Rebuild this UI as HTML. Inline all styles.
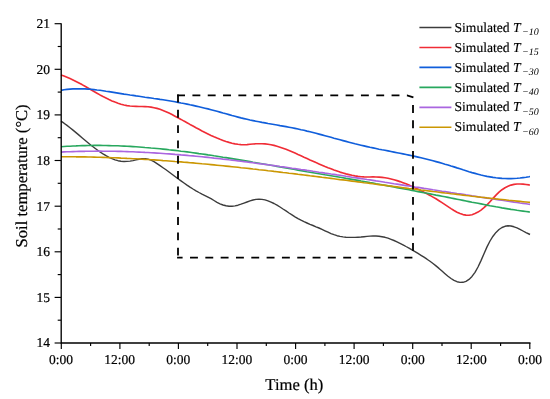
<!DOCTYPE html>
<html><head><meta charset="utf-8"><title>Soil temperature</title>
<style>
html,body{margin:0;padding:0;background:#fff;}
svg{display:block;}
text{font-family:"Liberation Serif","Times New Roman",serif;fill:#000;stroke:#000;stroke-width:0.2px;text-rendering:geometricPrecision;}
.tk{font-size:13.5px;}
.ttl{font-size:16.6px;}
.lg{font-size:13.6px;stroke-width:0.15px;}
.sub{font-size:10px;font-style:italic;stroke-width:0;}
.it{font-style:italic;}
</style></head><body>
<svg width="550" height="399" viewBox="0 0 550 399">
<rect width="550" height="399" fill="#fff"/>

<g fill="none" stroke-linecap="butt" stroke-linejoin="round">
<path d="M61.0 121.2 L64.0 123.2 L67.0 125.4 L70.0 127.7 L73.0 130.1 L76.0 132.6 L79.0 135.1 L82.0 137.7 L85.0 140.2 L88.0 142.7 L91.0 145.2 L94.0 147.5 L97.0 149.8 L100.0 152.0 L103.0 153.9 L106.0 155.7 L109.0 157.3 L112.0 158.7 L115.0 159.8 L118.0 160.7 L121.0 161.2 L124.0 161.5 L127.0 161.4 L130.0 161.1 L133.0 160.6 L136.0 159.9 L139.0 159.3 L142.0 158.8 L145.0 158.7 L148.0 159.1 L151.0 160.2 L154.0 161.7 L157.0 163.6 L160.0 165.6 L163.0 167.7 L166.0 169.8 L169.0 172.0 L172.0 174.2 L175.0 176.5 L178.0 178.7 L181.0 180.9 L184.0 183.0 L187.0 185.1 L190.0 187.1 L193.0 189.0 L196.0 190.8 L199.0 192.5 L202.0 194.1 L205.0 195.6 L208.0 197.1 L211.0 198.7 L214.0 200.5 L217.0 202.3 L220.0 203.8 L223.0 205.0 L226.0 205.8 L229.0 206.3 L232.0 206.3 L235.0 205.9 L238.0 205.2 L241.0 204.2 L244.0 203.1 L247.0 202.0 L250.0 200.9 L253.0 200.0 L256.0 199.4 L259.0 199.2 L262.0 199.4 L265.0 199.9 L268.0 200.9 L271.0 202.1 L274.0 203.5 L277.0 205.2 L280.0 207.0 L283.0 209.0 L286.0 210.9 L289.0 213.0 L292.0 214.9 L295.0 216.8 L298.0 218.6 L301.0 220.2 L304.0 221.7 L307.0 223.0 L310.0 224.3 L313.0 225.5 L316.0 226.8 L319.0 228.0 L322.0 229.4 L325.0 230.8 L328.0 232.2 L331.0 233.6 L334.0 234.7 L337.0 235.7 L340.0 236.4 L343.0 236.9 L346.0 237.2 L349.0 237.4 L352.0 237.4 L355.0 237.4 L358.0 237.2 L361.0 237.0 L364.0 236.7 L367.0 236.4 L370.0 236.1 L373.0 236.0 L376.0 236.0 L379.0 236.2 L382.0 236.7 L385.0 237.3 L388.0 238.2 L391.0 239.3 L394.0 240.5 L397.0 241.8 L400.0 243.3 L403.0 244.8 L406.0 246.5 L409.0 248.1 L412.0 249.9 L415.0 251.6 L418.0 253.4 L421.0 255.3 L424.0 257.2 L427.0 259.2 L430.0 261.3 L433.0 263.5 L436.0 265.9 L439.0 268.4 L442.0 271.1 L445.0 273.7 L448.0 276.2 L451.0 278.5 L454.0 280.4 L457.0 281.7 L460.0 282.4 L463.0 282.3 L466.0 281.3 L469.0 279.4 L472.0 276.4 L475.0 272.3 L478.0 267.0 L481.0 260.6 L484.0 253.7 L487.0 246.9 L490.0 241.0 L493.0 236.2 L496.0 232.4 L499.0 229.5 L502.0 227.5 L505.0 226.3 L508.0 225.8 L511.0 226.0 L514.0 226.8 L517.0 227.9 L520.0 229.4 L523.0 231.0 L526.0 232.6 L529.0 234.0 L530.0 234.5" stroke="#3c3c3c" stroke-width="1.4"/>
<path d="M61.0 75.0 L64.0 76.0 L67.0 77.2 L70.0 78.5 L73.0 79.9 L76.0 81.4 L79.0 83.0 L82.0 84.6 L85.0 86.3 L88.0 88.0 L91.0 89.8 L94.0 91.5 L97.0 93.2 L100.0 94.9 L103.0 96.5 L106.0 98.0 L109.0 99.5 L112.0 100.9 L115.0 102.1 L118.0 103.2 L121.0 104.2 L124.0 105.0 L127.0 105.6 L130.0 106.0 L133.0 106.3 L136.0 106.4 L139.0 106.5 L142.0 106.5 L145.0 106.6 L148.0 106.8 L151.0 107.1 L154.0 107.7 L157.0 108.4 L160.0 109.3 L163.0 110.5 L166.0 111.7 L169.0 113.1 L172.0 114.6 L175.0 116.2 L178.0 117.8 L181.0 119.4 L184.0 121.1 L187.0 122.7 L190.0 124.4 L193.0 126.0 L196.0 127.7 L199.0 129.3 L202.0 130.9 L205.0 132.4 L208.0 133.9 L211.0 135.4 L214.0 136.8 L217.0 138.1 L220.0 139.3 L223.0 140.4 L226.0 141.5 L229.0 142.4 L232.0 143.2 L235.0 143.9 L238.0 144.3 L241.0 144.6 L244.0 144.7 L247.0 144.6 L250.0 144.3 L253.0 144.0 L256.0 143.8 L259.0 143.7 L262.0 143.7 L265.0 143.9 L268.0 144.3 L271.0 144.8 L274.0 145.4 L277.0 146.3 L280.0 147.2 L283.0 148.2 L286.0 149.3 L289.0 150.5 L292.0 151.8 L295.0 153.1 L298.0 154.5 L301.0 155.8 L304.0 157.2 L307.0 158.5 L310.0 159.9 L313.0 161.2 L316.0 162.6 L319.0 163.9 L322.0 165.2 L325.0 166.5 L328.0 167.7 L331.0 168.8 L334.0 170.0 L337.0 171.0 L340.0 172.1 L343.0 173.0 L346.0 173.9 L349.0 174.6 L352.0 175.3 L355.0 175.9 L358.0 176.4 L361.0 176.7 L364.0 176.9 L367.0 177.0 L370.0 177.0 L373.0 176.9 L376.0 177.0 L379.0 177.1 L382.0 177.4 L385.0 177.8 L388.0 178.3 L391.0 179.0 L394.0 179.8 L397.0 180.6 L400.0 181.6 L403.0 182.7 L406.0 183.8 L409.0 185.1 L412.0 186.4 L415.0 187.7 L418.0 189.2 L421.0 190.7 L424.0 192.2 L427.0 193.8 L430.0 195.4 L433.0 197.1 L436.0 198.8 L439.0 200.7 L442.0 202.6 L445.0 204.6 L448.0 206.6 L451.0 208.6 L454.0 210.5 L457.0 212.2 L460.0 213.5 L463.0 214.6 L466.0 215.1 L469.0 215.2 L472.0 214.7 L475.0 213.6 L478.0 212.1 L481.0 210.1 L484.0 207.7 L487.0 204.9 L490.0 201.7 L493.0 198.4 L496.0 195.1 L499.0 192.2 L502.0 189.7 L505.0 187.7 L508.0 186.2 L511.0 185.1 L514.0 184.4 L517.0 184.0 L520.0 184.0 L523.0 184.1 L526.0 184.5 L529.0 184.9 L530.0 185.0" stroke="#F02C36" stroke-width="1.65"/>
<path d="M61.0 90.4 L64.0 89.8 L67.0 89.4 L70.0 89.1 L73.0 88.9 L76.0 88.8 L79.0 88.8 L82.0 88.8 L85.0 88.9 L88.0 89.1 L91.0 89.3 L94.0 89.6 L97.0 90.0 L100.0 90.3 L103.0 90.7 L106.0 91.2 L109.0 91.6 L112.0 92.1 L115.0 92.6 L118.0 93.1 L121.0 93.6 L124.0 94.1 L127.0 94.5 L130.0 95.0 L133.0 95.4 L136.0 95.9 L139.0 96.3 L142.0 96.7 L145.0 97.2 L148.0 97.6 L151.0 98.0 L154.0 98.5 L157.0 98.9 L160.0 99.4 L163.0 99.8 L166.0 100.3 L169.0 100.8 L172.0 101.3 L175.0 101.8 L178.0 102.4 L181.0 103.0 L184.0 103.5 L187.0 104.1 L190.0 104.8 L193.0 105.4 L196.0 106.1 L199.0 106.8 L202.0 107.5 L205.0 108.2 L208.0 108.9 L211.0 109.7 L214.0 110.5 L217.0 111.3 L220.0 112.1 L223.0 113.0 L226.0 113.8 L229.0 114.6 L232.0 115.5 L235.0 116.3 L238.0 117.1 L241.0 117.9 L244.0 118.6 L247.0 119.3 L250.0 120.0 L253.0 120.6 L256.0 121.2 L259.0 121.8 L262.0 122.4 L265.0 122.9 L268.0 123.5 L271.0 124.0 L274.0 124.5 L277.0 125.0 L280.0 125.6 L283.0 126.1 L286.0 126.6 L289.0 127.2 L292.0 127.8 L295.0 128.4 L298.0 129.0 L301.0 129.7 L304.0 130.3 L307.0 131.1 L310.0 131.8 L313.0 132.5 L316.0 133.3 L319.0 134.1 L322.0 134.9 L325.0 135.7 L328.0 136.5 L331.0 137.3 L334.0 138.2 L337.0 139.0 L340.0 139.8 L343.0 140.6 L346.0 141.4 L349.0 142.2 L352.0 143.0 L355.0 143.8 L358.0 144.5 L361.0 145.2 L364.0 145.9 L367.0 146.6 L370.0 147.3 L373.0 147.9 L376.0 148.5 L379.0 149.2 L382.0 149.8 L385.0 150.3 L388.0 150.9 L391.0 151.5 L394.0 152.1 L397.0 152.7 L400.0 153.3 L403.0 153.9 L406.0 154.5 L409.0 155.1 L412.0 155.7 L415.0 156.4 L418.0 157.1 L421.0 157.8 L424.0 158.5 L427.0 159.2 L430.0 160.0 L433.0 160.8 L436.0 161.6 L439.0 162.4 L442.0 163.3 L445.0 164.2 L448.0 165.0 L451.0 166.0 L454.0 166.9 L457.0 167.9 L460.0 168.8 L463.0 169.8 L466.0 170.7 L469.0 171.7 L472.0 172.6 L475.0 173.4 L478.0 174.2 L481.0 175.0 L484.0 175.7 L487.0 176.4 L490.0 176.9 L493.0 177.4 L496.0 177.8 L499.0 178.1 L502.0 178.4 L505.0 178.5 L508.0 178.6 L511.0 178.6 L514.0 178.5 L517.0 178.3 L520.0 178.0 L523.0 177.6 L526.0 177.2 L529.0 176.7 L530.0 176.5" stroke="#105EDB" stroke-width="1.65"/>
<path d="M61.0 146.7 L64.0 146.5 L67.0 146.3 L70.0 146.2 L73.0 146.0 L76.0 145.9 L79.0 145.7 L82.0 145.6 L85.0 145.6 L88.0 145.5 L91.0 145.5 L94.0 145.4 L97.0 145.4 L100.0 145.4 L103.0 145.5 L106.0 145.5 L109.0 145.6 L112.0 145.7 L115.0 145.7 L118.0 145.8 L121.0 146.0 L124.0 146.1 L127.0 146.3 L130.0 146.4 L133.0 146.6 L136.0 146.8 L139.0 147.0 L142.0 147.2 L145.0 147.5 L148.0 147.7 L151.0 148.0 L154.0 148.2 L157.0 148.5 L160.0 148.8 L163.0 149.1 L166.0 149.4 L169.0 149.8 L172.0 150.1 L175.0 150.4 L178.0 150.8 L181.0 151.2 L184.0 151.5 L187.0 151.9 L190.0 152.3 L193.0 152.7 L196.0 153.1 L199.0 153.6 L202.0 154.0 L205.0 154.4 L208.0 154.9 L211.0 155.3 L214.0 155.8 L217.0 156.2 L220.0 156.7 L223.0 157.2 L226.0 157.6 L229.0 158.1 L232.0 158.6 L235.0 159.1 L238.0 159.6 L241.0 160.1 L244.0 160.6 L247.0 161.1 L250.0 161.6 L253.0 162.2 L256.0 162.7 L259.0 163.2 L262.0 163.7 L265.0 164.2 L268.0 164.8 L271.0 165.3 L274.0 165.8 L277.0 166.4 L280.0 166.9 L283.0 167.4 L286.0 168.0 L289.0 168.5 L292.0 169.0 L295.0 169.5 L298.0 170.1 L301.0 170.6 L304.0 171.1 L307.0 171.7 L310.0 172.2 L313.0 172.7 L316.0 173.2 L319.0 173.7 L322.0 174.2 L325.0 174.8 L328.0 175.3 L331.0 175.8 L334.0 176.3 L337.0 176.8 L340.0 177.3 L343.0 177.8 L346.0 178.4 L349.0 178.9 L352.0 179.4 L355.0 179.9 L358.0 180.4 L361.0 181.0 L364.0 181.5 L367.0 182.0 L370.0 182.6 L373.0 183.1 L376.0 183.7 L379.0 184.2 L382.0 184.8 L385.0 185.3 L388.0 185.9 L391.0 186.4 L394.0 187.0 L397.0 187.6 L400.0 188.1 L403.0 188.7 L406.0 189.3 L409.0 189.8 L412.0 190.4 L415.0 191.0 L418.0 191.6 L421.0 192.1 L424.0 192.7 L427.0 193.3 L430.0 193.9 L433.0 194.5 L436.0 195.1 L439.0 195.6 L442.0 196.2 L445.0 196.8 L448.0 197.4 L451.0 198.0 L454.0 198.6 L457.0 199.2 L460.0 199.8 L463.0 200.4 L466.0 201.0 L469.0 201.6 L472.0 202.2 L475.0 202.7 L478.0 203.3 L481.0 203.9 L484.0 204.5 L487.0 205.1 L490.0 205.7 L493.0 206.2 L496.0 206.8 L499.0 207.3 L502.0 207.9 L505.0 208.4 L508.0 208.9 L511.0 209.4 L514.0 209.8 L517.0 210.3 L520.0 210.7 L523.0 211.1 L526.0 211.5 L529.0 211.9 L530.0 212.0" stroke="#28A85E" stroke-width="1.65"/>
<path d="M61.0 152.1 L64.0 151.9 L67.0 151.8 L70.0 151.7 L73.0 151.6 L76.0 151.5 L79.0 151.4 L82.0 151.3 L85.0 151.3 L88.0 151.2 L91.0 151.2 L94.0 151.2 L97.0 151.1 L100.0 151.1 L103.0 151.2 L106.0 151.2 L109.0 151.2 L112.0 151.2 L115.0 151.3 L118.0 151.4 L121.0 151.4 L124.0 151.5 L127.0 151.6 L130.0 151.7 L133.0 151.8 L136.0 152.0 L139.0 152.1 L142.0 152.2 L145.0 152.4 L148.0 152.5 L151.0 152.7 L154.0 152.9 L157.0 153.1 L160.0 153.3 L163.0 153.5 L166.0 153.7 L169.0 153.9 L172.0 154.1 L175.0 154.4 L178.0 154.6 L181.0 154.9 L184.0 155.1 L187.0 155.4 L190.0 155.7 L193.0 155.9 L196.0 156.2 L199.0 156.5 L202.0 156.8 L205.0 157.1 L208.0 157.4 L211.0 157.7 L214.0 158.1 L217.0 158.4 L220.0 158.7 L223.0 159.1 L226.0 159.4 L229.0 159.8 L232.0 160.1 L235.0 160.5 L238.0 160.9 L241.0 161.2 L244.0 161.6 L247.0 162.0 L250.0 162.4 L253.0 162.8 L256.0 163.2 L259.0 163.6 L262.0 164.0 L265.0 164.4 L268.0 164.8 L271.0 165.2 L274.0 165.6 L277.0 166.0 L280.0 166.5 L283.0 166.9 L286.0 167.3 L289.0 167.7 L292.0 168.2 L295.0 168.6 L298.0 169.0 L301.0 169.5 L304.0 169.9 L307.0 170.4 L310.0 170.8 L313.0 171.3 L316.0 171.7 L319.0 172.2 L322.0 172.6 L325.0 173.1 L328.0 173.5 L331.0 174.0 L334.0 174.4 L337.0 174.9 L340.0 175.3 L343.0 175.8 L346.0 176.3 L349.0 176.7 L352.0 177.2 L355.0 177.6 L358.0 178.1 L361.0 178.6 L364.0 179.0 L367.0 179.5 L370.0 179.9 L373.0 180.4 L376.0 180.9 L379.0 181.3 L382.0 181.8 L385.0 182.3 L388.0 182.7 L391.0 183.2 L394.0 183.7 L397.0 184.1 L400.0 184.6 L403.0 185.1 L406.0 185.6 L409.0 186.0 L412.0 186.5 L415.0 187.0 L418.0 187.4 L421.0 187.9 L424.0 188.4 L427.0 188.8 L430.0 189.3 L433.0 189.8 L436.0 190.2 L439.0 190.7 L442.0 191.2 L445.0 191.6 L448.0 192.1 L451.0 192.6 L454.0 193.0 L457.0 193.5 L460.0 193.9 L463.0 194.4 L466.0 194.9 L469.0 195.3 L472.0 195.8 L475.0 196.2 L478.0 196.7 L481.0 197.2 L484.0 197.6 L487.0 198.1 L490.0 198.5 L493.0 199.0 L496.0 199.4 L499.0 199.9 L502.0 200.3 L505.0 200.8 L508.0 201.2 L511.0 201.6 L514.0 202.1 L517.0 202.5 L520.0 203.0 L523.0 203.4 L526.0 203.8 L529.0 204.3 L530.0 204.4" stroke="#AA66E0" stroke-width="1.65"/>
<path d="M61.0 156.7 L64.0 156.7 L67.0 156.7 L70.0 156.7 L73.0 156.7 L76.0 156.8 L79.0 156.8 L82.0 156.9 L85.0 156.9 L88.0 157.0 L91.0 157.0 L94.0 157.1 L97.0 157.2 L100.0 157.3 L103.0 157.4 L106.0 157.5 L109.0 157.6 L112.0 157.7 L115.0 157.8 L118.0 157.9 L121.0 158.1 L124.0 158.2 L127.0 158.4 L130.0 158.5 L133.0 158.7 L136.0 158.8 L139.0 159.0 L142.0 159.2 L145.0 159.4 L148.0 159.5 L151.0 159.7 L154.0 159.9 L157.0 160.1 L160.0 160.3 L163.0 160.6 L166.0 160.8 L169.0 161.0 L172.0 161.2 L175.0 161.5 L178.0 161.7 L181.0 161.9 L184.0 162.2 L187.0 162.4 L190.0 162.7 L193.0 162.9 L196.0 163.2 L199.0 163.5 L202.0 163.8 L205.0 164.0 L208.0 164.3 L211.0 164.6 L214.0 164.9 L217.0 165.2 L220.0 165.5 L223.0 165.8 L226.0 166.1 L229.0 166.4 L232.0 166.7 L235.0 167.0 L238.0 167.3 L241.0 167.7 L244.0 168.0 L247.0 168.3 L250.0 168.6 L253.0 169.0 L256.0 169.3 L259.0 169.7 L262.0 170.0 L265.0 170.3 L268.0 170.7 L271.0 171.0 L274.0 171.4 L277.0 171.7 L280.0 172.1 L283.0 172.5 L286.0 172.8 L289.0 173.2 L292.0 173.5 L295.0 173.9 L298.0 174.3 L301.0 174.6 L304.0 175.0 L307.0 175.4 L310.0 175.8 L313.0 176.1 L316.0 176.5 L319.0 176.9 L322.0 177.3 L325.0 177.6 L328.0 178.0 L331.0 178.4 L334.0 178.8 L337.0 179.2 L340.0 179.6 L343.0 179.9 L346.0 180.3 L349.0 180.7 L352.0 181.1 L355.0 181.5 L358.0 181.9 L361.0 182.3 L364.0 182.7 L367.0 183.0 L370.0 183.4 L373.0 183.8 L376.0 184.2 L379.0 184.6 L382.0 185.0 L385.0 185.4 L388.0 185.8 L391.0 186.1 L394.0 186.5 L397.0 186.9 L400.0 187.3 L403.0 187.7 L406.0 188.1 L409.0 188.5 L412.0 188.8 L415.0 189.2 L418.0 189.6 L421.0 190.0 L424.0 190.3 L427.0 190.7 L430.0 191.1 L433.0 191.5 L436.0 191.8 L439.0 192.2 L442.0 192.6 L445.0 193.0 L448.0 193.3 L451.0 193.7 L454.0 194.0 L457.0 194.4 L460.0 194.8 L463.0 195.1 L466.0 195.5 L469.0 195.8 L472.0 196.2 L475.0 196.5 L478.0 196.9 L481.0 197.2 L484.0 197.5 L487.0 197.9 L490.0 198.2 L493.0 198.5 L496.0 198.9 L499.0 199.2 L502.0 199.5 L505.0 199.8 L508.0 200.2 L511.0 200.5 L514.0 200.8 L517.0 201.1 L520.0 201.4 L523.0 201.7 L526.0 202.0 L529.0 202.3 L530.0 202.4" stroke="#CB9703" stroke-width="1.65"/>
</g>
<g fill="none" stroke="#000" stroke-width="1.8" stroke-dasharray="7.9 7.42"><path d="M177.1 95.4 H407 L413.4 97.3"/><path d="M413 105 V257.6 H177.1"/><path d="M178 94.5 V258.5"/></g>
<g stroke="#000" fill="none">
<path stroke-width="1.35" d="M61.2 23.2 V343.0 H530.5"/>
<g stroke-width="1.15">
<path d="M54.6 343.0 H61.0"/>
<path d="M57.7 320.2 H61.0"/>
<path d="M54.6 297.4 H61.0"/>
<path d="M57.7 274.6 H61.0"/>
<path d="M54.6 251.8 H61.0"/>
<path d="M57.7 229.0 H61.0"/>
<path d="M54.6 206.2 H61.0"/>
<path d="M57.7 183.3 H61.0"/>
<path d="M54.6 160.5 H61.0"/>
<path d="M57.7 137.7 H61.0"/>
<path d="M54.6 114.9 H61.0"/>
<path d="M57.7 92.1 H61.0"/>
<path d="M54.6 69.3 H61.0"/>
<path d="M57.7 46.5 H61.0"/>
<path d="M54.6 23.7 H61.0"/>
<path d="M61.3 343.0 V349.1"/>
<path d="M90.6 343.0 V346.0"/>
<path d="M119.9 343.0 V349.1"/>
<path d="M149.2 343.0 V346.0"/>
<path d="M178.4 343.0 V349.1"/>
<path d="M207.7 343.0 V346.0"/>
<path d="M237.0 343.0 V349.1"/>
<path d="M266.3 343.0 V346.0"/>
<path d="M295.6 343.0 V349.1"/>
<path d="M324.9 343.0 V346.0"/>
<path d="M354.1 343.0 V349.1"/>
<path d="M383.4 343.0 V346.0"/>
<path d="M412.7 343.0 V349.1"/>
<path d="M442.0 343.0 V346.0"/>
<path d="M471.2 343.0 V349.1"/>
<path d="M500.6 343.0 V346.0"/>
<path d="M529.8 343.0 V349.1"/>
</g></g>
<text class="tk" x="50.0" y="347.4" text-anchor="end">14</text>
<text class="tk" x="50.0" y="301.8" text-anchor="end">15</text>
<text class="tk" x="50.0" y="256.2" text-anchor="end">16</text>
<text class="tk" x="50.0" y="210.6" text-anchor="end">17</text>
<text class="tk" x="50.0" y="164.9" text-anchor="end">18</text>
<text class="tk" x="50.0" y="119.3" text-anchor="end">19</text>
<text class="tk" x="50.0" y="73.7" text-anchor="end">20</text>
<text class="tk" x="50.0" y="28.1" text-anchor="end">21</text>
<text class="tk" x="61.0" y="364.4" text-anchor="middle">0:00</text>
<text class="tk" x="119.6" y="364.4" text-anchor="middle">12:00</text>
<text class="tk" x="178.2" y="364.4" text-anchor="middle">0:00</text>
<text class="tk" x="236.9" y="364.4" text-anchor="middle">12:00</text>
<text class="tk" x="295.5" y="364.4" text-anchor="middle">0:00</text>
<text class="tk" x="354.1" y="364.4" text-anchor="middle">12:00</text>
<text class="tk" x="412.8" y="364.4" text-anchor="middle">0:00</text>
<text class="tk" x="471.4" y="364.4" text-anchor="middle">12:00</text>
<text class="tk" x="530.0" y="364.4" text-anchor="middle">0:00</text>
<text class="ttl" x="294.3" y="390.3" text-anchor="middle">Time (h)</text>
<text class="ttl" transform="translate(26.6,175.9) rotate(-90)" text-anchor="middle">Soil temperature (°C)</text>
<path d="M419.4 27.5 H451.4" stroke="#3c3c3c" stroke-width="1.4" fill="none"/>
<text class="lg" x="454.5" y="31.65">Simulated <tspan class="it">T</tspan><tspan class="sub" dx="1.5" dy="3.7">−10</tspan></text>
<path d="M419.4 47.5 H451.4" stroke="#F02C36" stroke-width="1.65" fill="none"/>
<text class="lg" x="454.5" y="51.60">Simulated <tspan class="it">T</tspan><tspan class="sub" dx="1.5" dy="3.7">−15</tspan></text>
<path d="M419.4 67.4 H451.4" stroke="#105EDB" stroke-width="1.65" fill="none"/>
<text class="lg" x="454.5" y="71.55">Simulated <tspan class="it">T</tspan><tspan class="sub" dx="1.5" dy="3.7">−30</tspan></text>
<path d="M419.4 87.3 H451.4" stroke="#28A85E" stroke-width="1.65" fill="none"/>
<text class="lg" x="454.5" y="91.50">Simulated <tspan class="it">T</tspan><tspan class="sub" dx="1.5" dy="3.7">−40</tspan></text>
<path d="M419.4 107.3 H451.4" stroke="#AA66E0" stroke-width="1.65" fill="none"/>
<text class="lg" x="454.5" y="111.45">Simulated <tspan class="it">T</tspan><tspan class="sub" dx="1.5" dy="3.7">−50</tspan></text>
<path d="M419.4 127.2 H451.4" stroke="#CB9703" stroke-width="1.65" fill="none"/>
<text class="lg" x="454.5" y="131.40">Simulated <tspan class="it">T</tspan><tspan class="sub" dx="1.5" dy="3.7">−60</tspan></text>
</svg></body></html>
